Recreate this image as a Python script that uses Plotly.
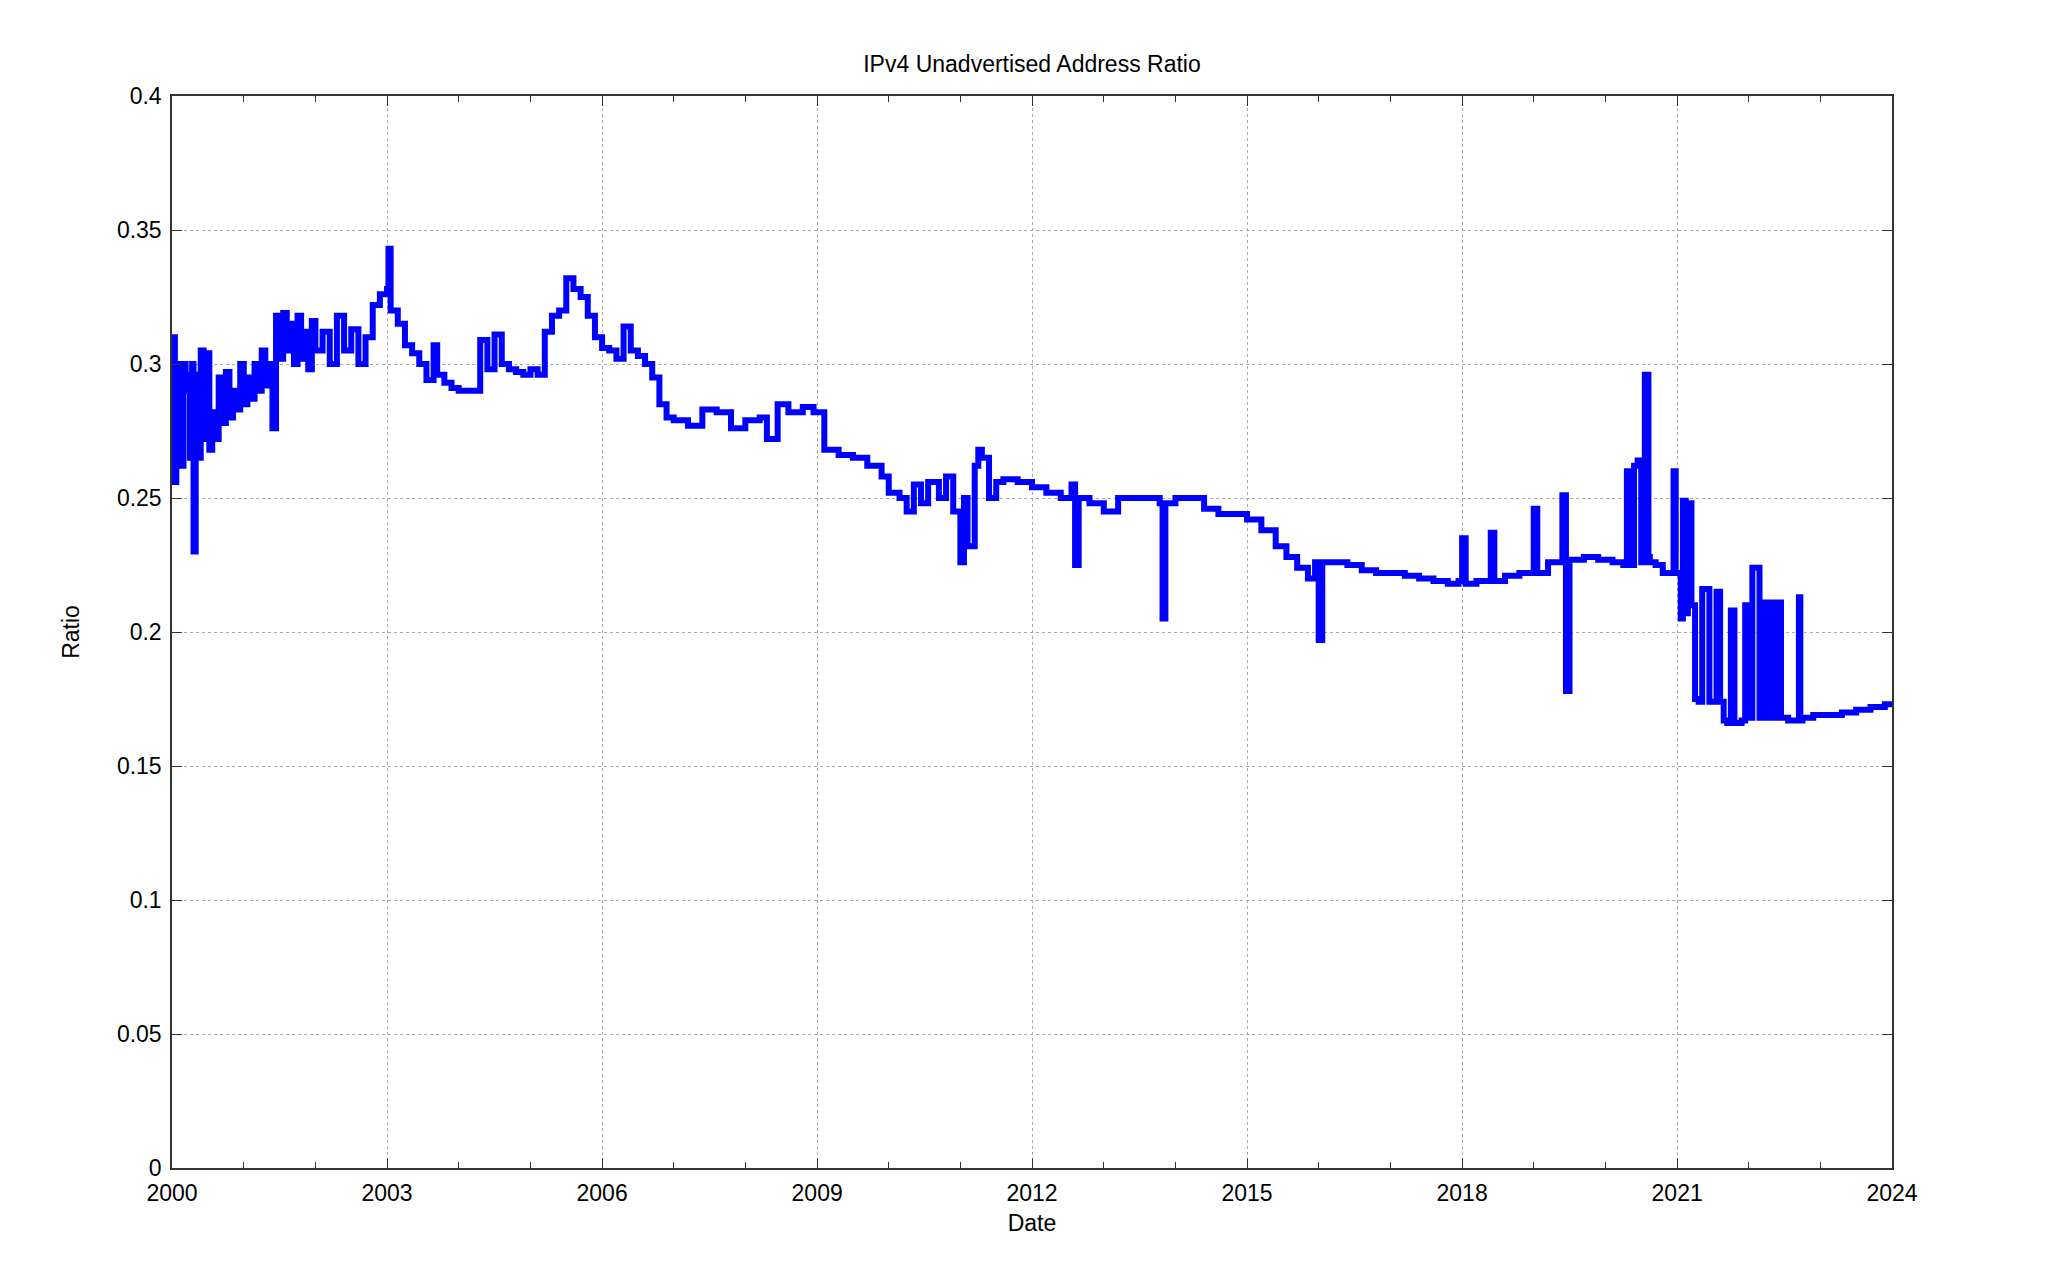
import plotly.graph_objects as go
import pandas as pd

# 2000-2003
years_a = [2000.00,2000.02,2000.04,2000.06,2000.08,2000.10,2000.13,2000.16,2000.19,2000.22,
           2000.25,2000.28,2000.30,2000.33,2000.36,2000.40,2000.44,2000.48,2000.52,2000.56,
           2000.60,2000.65,2000.70,2000.75,2000.80,2000.85,2000.90,2000.95,2001.00,2001.05,
           2001.10,2001.15,2001.20,2001.25,2001.30,2001.35,2001.40,2001.45,2001.50,2001.55,
           2001.60,2001.65,2001.70,2001.75,2001.80,2001.85,2001.90,2001.95,2002.00,2002.10]
ratio_a = [0.280,0.310,0.256,0.300,0.272,0.298,0.262,0.300,0.290,0.296,
           0.265,0.300,0.230,0.296,0.265,0.305,0.272,0.304,0.268,0.282,
           0.272,0.295,0.278,0.297,0.280,0.290,0.283,0.300,0.285,0.295,
           0.287,0.300,0.290,0.305,0.292,0.300,0.276,0.318,0.302,0.319,
           0.305,0.315,0.300,0.318,0.302,0.312,0.298,0.316,0.305,0.312]
# 2002-2006
years_b = [2002.20,2002.30,2002.40,2002.50,2002.60,2002.70,2002.80,2002.90,2003.00,2003.02,
           2003.05,2003.15,2003.25,2003.35,2003.45,2003.55,2003.65,2003.70,2003.80,2003.90,
           2004.00,2004.15,2004.30,2004.40,2004.50,2004.60,2004.70,2004.80,2004.90,2005.00,
           2005.10,2005.20,2005.30,2005.40,2005.50,2005.60,2005.70,2005.80,2005.90,2006.00]
ratio_b = [0.300,0.318,0.305,0.313,0.300,0.310,0.322,0.326,0.328,0.343,
           0.320,0.315,0.307,0.304,0.300,0.294,0.307,0.296,0.293,0.291,
           0.290,0.290,0.309,0.298,0.311,0.300,0.298,0.297,0.296,0.298,
           0.296,0.312,0.318,0.320,0.332,0.328,0.325,0.318,0.310,0.306]
# 2006-2012
years_c = [2006.10,2006.20,2006.30,2006.40,2006.50,2006.60,2006.70,2006.80,2006.90,2007.00,
           2007.20,2007.40,2007.60,2007.80,2008.00,2008.20,2008.30,2008.45,2008.60,2008.80,
           2008.95,2009.10,2009.30,2009.50,2009.70,2009.90,2010.00,2010.15,2010.25,2010.35,
           2010.45,2010.55,2010.70,2010.80,2010.90,2011.00,2011.05,2011.10,2011.20,2011.25,
           2011.30,2011.40,2011.50,2011.60,2011.80]
ratio_c = [0.305,0.302,0.314,0.305,0.303,0.300,0.295,0.285,0.280,0.279,
           0.277,0.283,0.282,0.276,0.279,0.280,0.272,0.285,0.282,0.284,
           0.282,0.268,0.266,0.265,0.262,0.258,0.252,0.250,0.245,0.255,
           0.248,0.256,0.250,0.258,0.245,0.226,0.250,0.232,0.262,0.268,
           0.265,0.250,0.256,0.257,0.256]
# 2012-2018
years_d = [2012.00,2012.20,2012.40,2012.55,2012.60,2012.65,2012.80,2013.00,2013.20,2013.40,
           2013.60,2013.78,2013.82,2013.86,2014.00,2014.20,2014.40,2014.60,2014.80,2015.00,
           2015.20,2015.40,2015.55,2015.70,2015.85,2015.95,2016.00,2016.05,2016.20,2016.40,
           2016.60,2016.80,2017.00,2017.20,2017.40,2017.60,2017.80,2017.95]
ratio_d = [0.254,0.252,0.250,0.255,0.225,0.250,0.248,0.245,0.250,0.250,
           0.250,0.248,0.205,0.248,0.250,0.250,0.246,0.244,0.244,0.242,
           0.238,0.232,0.228,0.224,0.220,0.226,0.197,0.226,0.226,0.225,
           0.223,0.222,0.222,0.221,0.220,0.219,0.218,0.219]
# 2018-2024
years_e = [2018.00,2018.05,2018.20,2018.35,2018.40,2018.45,2018.60,2018.80,2018.95,2019.00,
           2019.05,2019.20,2019.35,2019.40,2019.45,2019.50,2019.70,2019.90,2020.10,2020.25,
           2020.30,2020.35,2020.40,2020.45,2020.50,2020.55,2020.60,2020.62,2020.70,2020.80,
           2020.90,2020.95,2020.98,2021.00,2021.05,2021.08,2021.12,2021.15,2021.20,2021.25,
           2021.30,2021.35,2021.45,2021.55,2021.60,2021.65,2021.70,2021.75,2021.80,2021.90,
           2021.95,2022.00,2022.05,2022.15,2022.20,2022.25,2022.30,2022.35,2022.40,2022.45,
           2022.55,2022.70,2022.72,2022.75,2022.90,2023.10,2023.30,2023.50,2023.70,2023.90,
           2024.00]
ratio_e = [0.235,0.218,0.219,0.219,0.237,0.219,0.221,0.222,0.222,0.246,
           0.222,0.226,0.226,0.251,0.178,0.227,0.228,0.227,0.226,0.225,
           0.260,0.225,0.262,0.264,0.226,0.296,0.228,0.226,0.225,0.222,
           0.222,0.260,0.222,0.222,0.205,0.249,0.207,0.248,0.210,0.175,
           0.174,0.216,0.174,0.215,0.174,0.167,0.166,0.208,0.166,0.167,
           0.210,0.168,0.224,0.168,0.211,0.168,0.211,0.168,0.211,0.168,
           0.167,0.213,0.167,0.168,0.169,0.169,0.170,0.171,0.172,0.173,
           0.174]

years = years_a + years_b + years_c + years_d + years_e
ratio = ratio_a + ratio_b + ratio_c + ratio_d + ratio_e
assert len(years) == len(ratio)

def to_date(y):
    yr = int(y)
    start = pd.Timestamp(year=yr, month=1, day=1)
    end = pd.Timestamp(year=yr + 1, month=1, day=1)
    return start + (end - start) * (y - yr)

dates = [to_date(y) for y in years]

fig = go.Figure(go.Scatter(x=dates, y=ratio, mode="lines",
                           line=dict(color="#0000ff", width=6, shape="hv")))

font = "Liberation Sans, Arial, sans-serif"
axis_common = dict(showline=True, linecolor="#333", linewidth=1.5, mirror="ticks",
                   ticks="inside", ticklen=10, tickcolor="#333",
                   showgrid=True, gridcolor="#aaa", griddash="dot", gridwidth=1,
                   zeroline=False, tickfont=dict(size=23, color="#000"))
fig.update_layout(
    width=2048, height=1273,
    plot_bgcolor="white", paper_bgcolor="white",
    margin=dict(l=164, r=164, t=88, b=113),
    font=dict(family=font, color="#000"),
    title=dict(text="IPv4 Unadvertised Address Ratio", x=0.5, xanchor="center",
               y=0.962, font=dict(size=23)),
    showlegend=False,
)
fig.update_xaxes(**axis_common,
                 range=[pd.Timestamp("2000-01-01"), pd.Timestamp("2024-01-01")],
                 tickvals=[pd.Timestamp(f"{y}-01-01") for y in range(2000, 2025, 3)],
                 ticktext=[str(y) for y in range(2000, 2025, 3)],
                 ticklabelstandoff=4,
                 minor=dict(tickvals=[pd.Timestamp(f"{y}-01-01") for y in range(2000, 2025)],
                            ticks="inside", ticklen=6, tickcolor="#333", showgrid=False),
                 title=dict(text="Date", font=dict(size=23), standoff=10))
fig.update_yaxes(**axis_common, range=[0, 0.4],
                 tickvals=[0, 0.05, 0.1, 0.15, 0.2, 0.25, 0.3, 0.35, 0.4],
                 ticktext=["0", "0.05", "0.1", "0.15", "0.2", "0.25", "0.3", "0.35", "0.4"],
                 ticklabelstandoff=4,
                 title=dict(text="Ratio", font=dict(size=23), standoff=31))
fig.write_html("out.html")
